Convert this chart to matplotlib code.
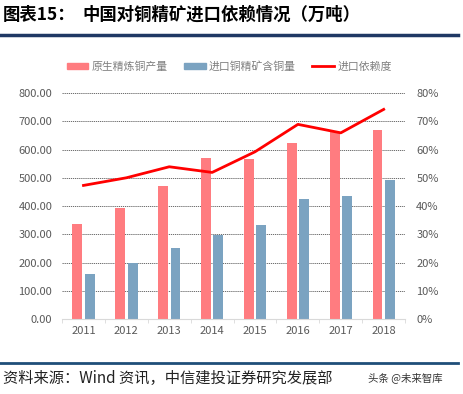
import matplotlib
matplotlib.use("Agg")
import matplotlib.pyplot as plt
from matplotlib.lines import Line2D
from matplotlib.patches import Patch
import numpy as np

plt.rcParams['font.family'] = ['Noto Sans CJK SC', 'DejaVu Sans']

years = ["2011", "2012", "2013", "2014", "2015", "2016", "2017", "2018"]
refined_copper = [338, 393, 470, 571, 566, 624, 662, 668]
imported_conc = [160, 197, 253, 298, 334, 426, 434, 493]
dependency = [47.3, 50.0, 53.9, 51.9, 59.2, 68.9, 65.9, 74.2]

left_ticks = [0, 100, 200, 300, 400, 500, 600, 700, 800]
right_ticks = [0, 10, 20, 30, 40, 50, 60, 70, 80]

pink = "#FF7C80"
blue = "#7BA3C1"
red = "#FF0000"
grey_txt = "#595959"

fig = plt.figure(figsize=(4.63, 3.94), dpi=100)
ax = fig.add_axes([0.134, 0.190, 0.741, 0.574])

x = np.arange(len(years))
w = 0.23
ax.bar(x - 0.145, refined_copper, width=w, color=pink, zorder=3)
ax.bar(x + 0.145, imported_conc, width=w, color=blue, zorder=3)

ax.set_xlim(-0.5, len(years) - 0.5)
ax.set_ylim(0, 800)
ax.set_yticks(left_ticks)
ax.set_yticklabels([f"{v:.2f}" for v in left_ticks])
ax.set_xticks(x)
ax.set_xticklabels(years)
ax.set_xticks(np.arange(-0.5, len(years), 1), minor=True)
ax.tick_params(axis='x', which='major', length=0, pad=5, labelsize=8, labelcolor=grey_txt)
ax.tick_params(axis='x', which='minor', length=3, color="#D9D9D9")
ax.tick_params(axis='y', length=0, pad=7, labelsize=8, labelcolor=grey_txt)
ax.grid(axis='y', color="#555555", linestyle=(0, (1.5, 1)), linewidth=0.6, zorder=0)
for s in ['left', 'right', 'top']:
    ax.spines[s].set_visible(False)
ax.spines['bottom'].set_color("#D9D9D9")
ax.spines['bottom'].set_zorder(4)

ax2 = ax.twinx()
ax2.plot(x, dependency, color=red, linewidth=2, zorder=5)
ax2.set_ylim(0, 80)
ax2.set_yticks(right_ticks)
ax2.set_yticklabels([f"{v}%" for v in right_ticks])
ax2.tick_params(axis='y', length=0, pad=8, labelsize=8, labelcolor=grey_txt)
for s in ['left', 'right', 'top', 'bottom']:
    ax2.spines[s].set_visible(False)

# legend
handles = [Patch(color=pink), Patch(color=blue), Line2D([], [], color=red, linewidth=2)]
labels = ["原生精炼铜产量", "进口铜精矿含铜量", "进口依赖度"]
fig.legend(handles, labels, loc='center', bbox_to_anchor=(0.495, 0.832), ncol=3,
           frameon=False, fontsize=7.8, labelcolor="#7F7F7F", handlelength=2.0,
           handleheight=0.45, handletextpad=0.3, columnspacing=1.5)

# title and rules
fig.text(0.006, 0.962, "图表15：", fontsize=12.5, fontweight='bold', va='center', ha='left')
fig.text(0.178, 0.962, "中国对铜精矿进口依赖情况（万吨）", fontsize=12.5, fontweight='bold',
         va='center', ha='left')
fig.add_artist(Line2D([0.0, 0.99], [0.911, 0.911], color="#1F3864", linewidth=2.5))
fig.add_artist(Line2D([0.0, 0.99], [0.079, 0.079], color="#1F4E79", linewidth=2))

fig.text(0.006, 0.040, "资料来源：Wind 资讯，中信建投证券研究发展部", fontsize=11,
         style='italic', va='center', ha='left', color="#222222")
fig.text(0.795, 0.042, "头条 @未来智库", fontsize=7.5, va='center', ha='left', color="#333333")

fig.savefig("out.png", dpi=100)
